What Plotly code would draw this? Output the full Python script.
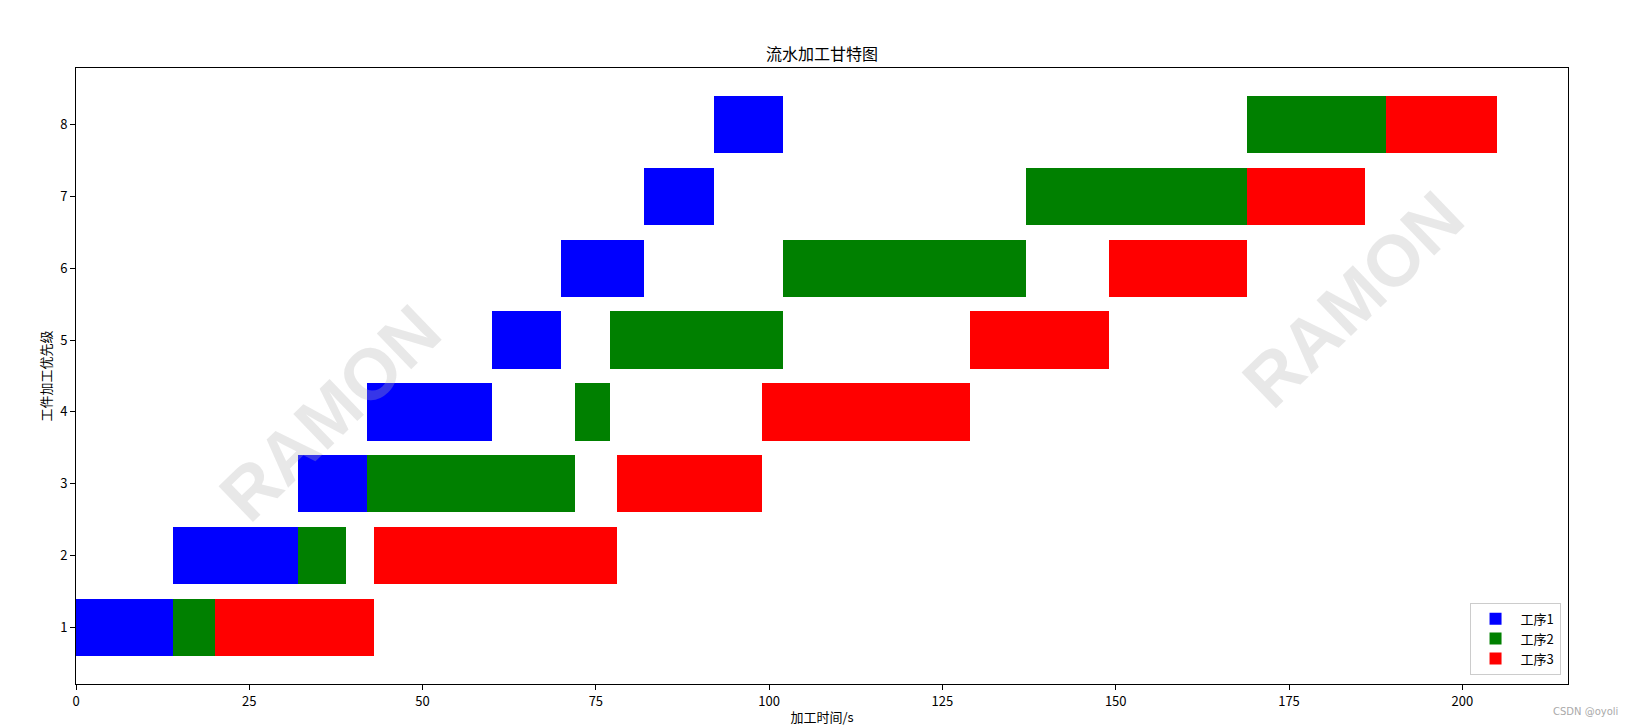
import plotly.graph_objects as go

jobs = [1, 2, 3, 4, 5, 6, 7, 8]
proc_names = ["工序1", "工序2", "工序3"]
proc_colors = ["blue", "green", "red"]

# start / end times per process, per job (priority)
p1_start = [0, 14, 32, 42, 60, 70, 82, 92]
p1_end = [14, 32, 42, 60, 70, 82, 92, 102]
p2_start = [14, 32, 42, 72, 77, 102, 137, 169]
p2_end = [20, 39, 72, 77, 102, 137, 169, 189]
p3_start = [20, 43, 78, 99, 129, 149, 169, 189]
p3_end = [43, 78, 99, 129, 149, 169, 186, 205]

x_ticks = [0, 25, 50, 75, 100, 125, 150, 175, 200]

starts = [p1_start, p2_start, p3_start]
ends = [p1_end, p2_end, p3_end]

FONT = "Noto Sans CJK SC, DejaVu Sans, sans-serif"

fig = go.Figure()
for name, color, s, e in zip(proc_names, proc_colors, starts, ends):
    fig.add_trace(go.Bar(
        name=name,
        orientation="h",
        y=jobs,
        base=s,
        x=[b - a for a, b in zip(s, e)],
        width=0.8,
        marker=dict(color=color, line=dict(width=0)),
    ))

axis_common = dict(
    showline=True, linecolor="black", linewidth=1, mirror=True,
    ticks="outside", ticklen=5, tickcolor="black", tickwidth=1,
    showgrid=False, zeroline=False, automargin=False,
    tickfont=dict(family=FONT, size=13, color="black"),
)

# the page body adds an 8px offset, so the figure is sized/margined to compensate
W, H = 1621, 718

fig.update_layout(
    width=W, height=H,
    barmode="overlay",
    bargap=0,
    paper_bgcolor="white", plot_bgcolor="white",
    margin=dict(l=68, r=61, t=60, b=42),
    title=dict(text="流水加工甘特图", x=0.5, xanchor="center", xref="paper",
               yref="container", y=1 - 46 / H, yanchor="middle",
               font=dict(family=FONT, size=16, color="black")),
    xaxis=dict(range=[0, 215.25], tickvals=x_ticks,
               title=dict(text="加工时间/s", standoff=4,
                          font=dict(family=FONT, size=13, color="black")),
               **axis_common),
    yaxis=dict(range=[0.21, 8.79], tickvals=jobs,
               title=dict(text="工件加工优先级", standoff=5,
                          font=dict(family=FONT, size=13, color="black")),
               **axis_common),
    legend=dict(x=0.995, y=0.015, xanchor="right", yanchor="bottom",
                bgcolor="rgba(255,255,255,0.8)", bordercolor="#cccccc", borderwidth=1,
                font=dict(family=FONT, size=13, color="black"),
                traceorder="normal", itemwidth=40, tracegroupgap=0),
    showlegend=True,
)

# watermarks
for xw, yw in [(0.17, 0.44), (0.856, 0.625)]:
    fig.add_annotation(text="RAMON", xref="paper", yref="paper", x=xw, y=yw,
                       xanchor="center", yanchor="middle",
                       showarrow=False, textangle=-44,
                       font=dict(family="Liberation Sans, Arial, sans-serif", size=72,
                                 color="rgba(178,178,178,0.3)", weight="bold"))

fig.add_annotation(text="CSDN @oyoli", xref="paper", yref="paper", x=1.035, y=-0.044,
                   xanchor="right", yanchor="middle", showarrow=False,
                   font=dict(family="DejaVu Sans, sans-serif", size=10, color="#aaaaaa"))

fig.write_html("out.html")
